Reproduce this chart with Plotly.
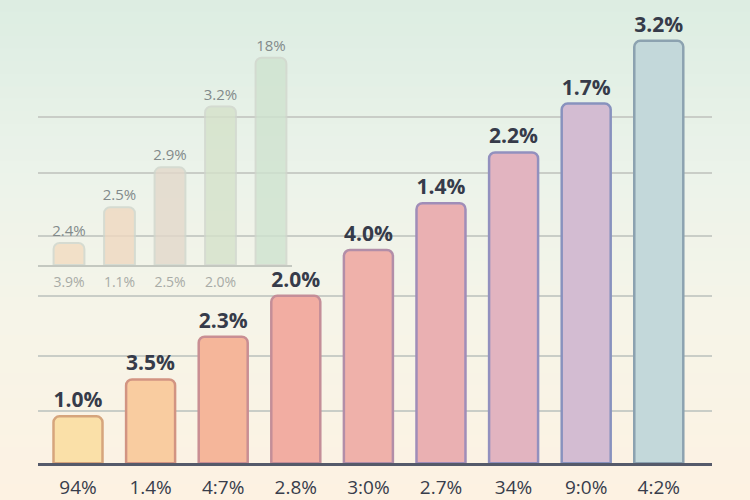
import plotly.graph_objects as go

# ---------------- data ----------------
# main chart (in pixel-like units above baseline)
main_categories = ["94%", "1.4%", "4:7%", "2.8%", "3:0%", "2.7%", "34%", "9:0%", "4:2%"]
main_heights = [47, 84, 127, 168, 214, 261, 312, 361, 424]
main_labels = ["1.0%", "3.5%", "2.3%", "2.0%", "4.0%", "1.4%", "2.2%", "1.7%", "3.2%"]

# faded inset chart (upper left)
inset_categories = ["3.9%", "1.1%", "2.5%", "2.0%", ""]
inset_heights = [22, 58, 98, 159, 208]
inset_labels = ["2.4%", "2.5%", "2.9%", "3.2%", "18%"]

# grid levels of the main chart
grid_levels = [52, 108, 168, 228, 291, 348]

# ---------------- styles ----------------
main_fill = ["#FAE0A8", "#F9CCA0", "#F5B69A", "#F2ADA2", "#EFB1AA", "#EAB0B2",
             "#E2B4C0", "#D3BCD2", "#C3D8DA"]
main_line = ["#D6A57C", "#D29482", "#C98E93", "#C48E98", "#B28EA8", "#A08DB8",
             "#9290BE", "#8892BE", "#8CA2B0"]
inset_fill = ["#F3DCC0", "#EFD8C0", "#E3D8CA", "#D5E2CA", "#CFE3CF"]

W, H = 750, 500

def px_x(p):
    return p / W

def px_y(p):
    return (H - p) / H

fig = go.Figure()

# inset (faded) bars
fig.add_trace(go.Bar(
    x=list(range(len(inset_heights))), y=inset_heights,
    xaxis="x2", yaxis="y2",
    width=0.61,
    marker=dict(color=inset_fill, opacity=0.8,
                line=dict(color="#D0D6CC", width=2)),
    text=inset_labels, textposition="outside", constraintext="none",
    textfont=dict(family="Open Sans", size=15, color="#828A8A"),
    cliponaxis=False, hoverinfo="skip",
))

# main bars
fig.add_trace(go.Bar(
    x=list(range(len(main_heights))), y=main_heights,
    xaxis="x", yaxis="y",
    width=0.675,
    marker=dict(color=main_fill, line=dict(color=main_line, width=2.5)),
    text=main_labels, textposition="outside", constraintext="none",
    textfont=dict(family="Open Sans", size=21, color="#363B4A", weight="bold"),
    cliponaxis=False, hoverinfo="skip",
))

# background gradient bands
stops = [(0.0, (220, 237, 226)), (0.35, (236, 243, 234)), (0.65, (246, 244, 232)), (1.0, (253, 242, 226))]

def col_at(t):
    for (t0, c0), (t1, c1) in zip(stops[:-1], stops[1:]):
        if t0 <= t <= t1:
            f = (t - t0) / (t1 - t0)
            return "rgb(%d,%d,%d)" % tuple(int(round(a + (b - a) * f)) for a, b in zip(c0, c1))
    return "rgb(%d,%d,%d)" % stops[-1][1]

shapes = []
n = 40
for i in range(n):
    shapes.append(dict(type="rect", xref="paper", yref="paper",
                       x0=0, x1=1, y0=1 - (i + 1) / n, y1=1 - i / n + 0.002,
                       fillcolor=col_at((i + 0.5) / n), line=dict(width=0),
                       layer="below"))

fig.update_layout(
    width=W, height=H,
    margin=dict(l=0, r=0, t=0, b=0),
    paper_bgcolor="#FDF2E2", plot_bgcolor="rgba(0,0,0,0)",
    showlegend=False, barmode="overlay", barcornerradius=6,
    shapes=shapes,
    xaxis=dict(domain=[px_x(38), px_x(712)], range=[-0.551, 8.733],
               tickmode="array", tickvals=list(range(len(main_categories))),
               ticktext=main_categories, showgrid=False, zeroline=False,
               showline=True, linecolor="#555A6A", linewidth=3,
               ticks="outside", ticklen=5, tickcolor="rgba(0,0,0,0)",
               tickfont=dict(family="Open Sans", size=19, color="#383D4B", weight=500),
               fixedrange=True),
    yaxis=dict(domain=[px_y(465), px_y(25)], range=[0, 440],
               tickmode="array", tickvals=grid_levels, showticklabels=False,
               showgrid=True, gridcolor="#C9CDC7", gridwidth=2,
               zeroline=False, showline=False, fixedrange=True),
    xaxis2=dict(domain=[px_x(38), px_x(292)], range=[-0.614, 4.416],
                anchor="y2",
                tickmode="array", tickvals=list(range(len(inset_categories))),
                ticktext=inset_categories, showgrid=False, zeroline=False,
                showline=True, linecolor="#C4C8C0", linewidth=2,
                ticks="outside", ticklen=3, tickcolor="rgba(0,0,0,0)",
                tickfont=dict(family="Open Sans", size=14, color="#A8ABA6"),
                fixedrange=True),
    yaxis2=dict(domain=[px_y(266), px_y(30)], range=[0, 236], anchor="x2",
                showticklabels=False, showgrid=False, zeroline=False,
                showline=False, fixedrange=True),
)

fig.write_html("out.html",
               config={"displayModeBar": False},
               post_script="document.body.style.margin='0';document.body.style.overflow='hidden';")
